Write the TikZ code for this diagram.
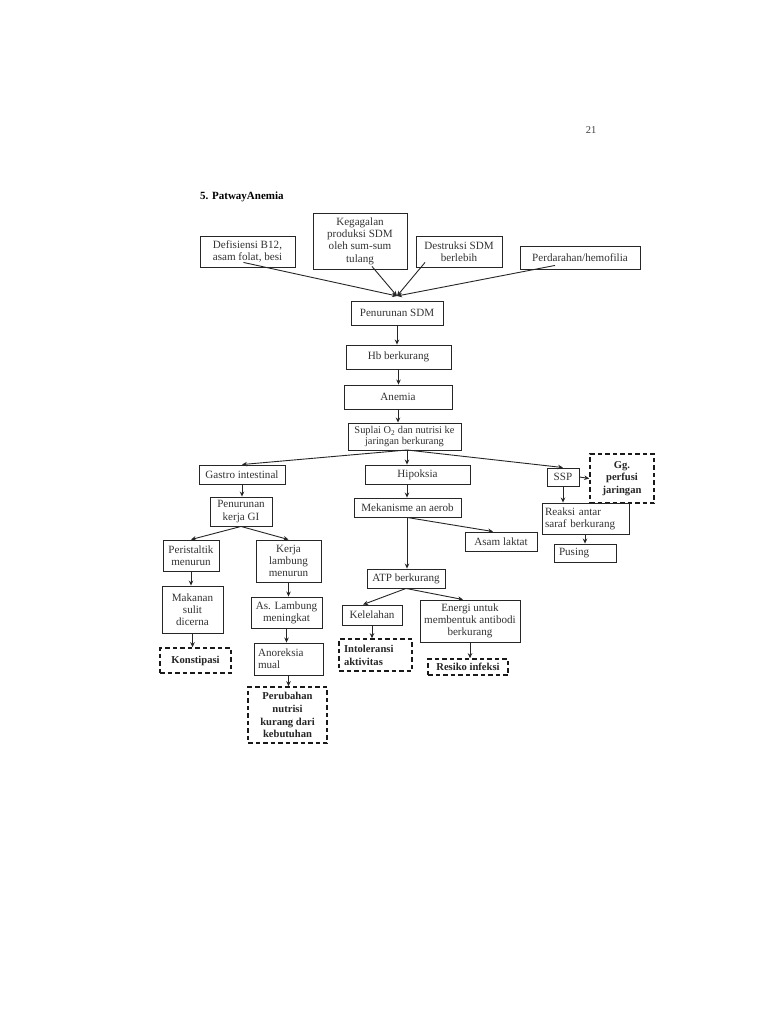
\documentclass[tikz,border=0pt]{standalone}
\usepackage{fontspec}
\setmainfont{Liberation Serif}
\usetikzlibrary{arrows.meta}
\begin{document}
\begin{tikzpicture}[x=1pt,y=-1pt,
  box/.style={draw=black!85, line width=0.9pt, inner sep=1pt, align=center,
    font=\fontsize{11.1}{12.3}\selectfont, text=black!80},
  lbox/.style={box, align=left},
  dbox/.style={draw=black!90, line width=1.6pt, dash pattern=on 4.5pt off 3pt,
    inner sep=1pt, align=center, font=\fontsize{10.6}{12.8}\selectfont\bfseries, text=black!85},
  arr/.style={draw=black!85, line width=0.9pt, -{Stealth[length=5pt,width=4.5pt]}},
  ln/.style={draw=black!85, line width=0.9pt}]
\useasboundingbox (0,0) rectangle (768,1024);
\fill[white] (0,0) rectangle (768,1024);

\node[font=\fontsize{10.5}{12}\selectfont, text=black!75] (pg) at (591,130) {21};
\node[anchor=west, font=\fontsize{11}{12}\selectfont\bfseries, inner sep=0] (title) at (200,197) {5. PatwayAnemia};

% top causes
\node[box, minimum width=95, minimum height=31] (defi) at (247.5,251.5) {Defisiensi B12,\\asam folat, besi};
\node[box, minimum width=94, minimum height=56] (kega) at (360,241) {Kegagalan\\produksi SDM\\oleh sum-sum\\tulang};
\node[box, minimum width=86, minimum height=31] (dest) at (459,251.5) {Destruksi SDM\\berlebih};
\node[box, minimum width=120, minimum height=23] (perd) at (580,257.5) {Perdarahan/hemofilia};
\coordinate (conv) at (397,296);

\node[box, minimum width=92, minimum height=24] (pen) at (397,313) {Penurunan SDM};
\node[box, minimum width=105, minimum height=24] (hb) at (398.5,357) {Hb berkurang};
\node[box, minimum width=108, minimum height=24] (anem) at (398,397) {Anemia};
\node[box, minimum width=113, minimum height=27, font=\fontsize{10.4}{10.8}\selectfont] (supl) at (404.5,436.5) {Suplai O\textsubscript{2} dan nutrisi ke\\jaringan berkurang};

% level branches
\node[box, minimum width=86, minimum height=19] (gast) at (242,474.5) {Gastro intestinal};
\node[box, minimum width=105, minimum height=19] (hipo) at (417.5,474.5) {Hipoksia};
\node[box, minimum width=32, minimum height=18] (ssp) at (563,477) {SSP};
\node[dbox, minimum width=64, minimum height=49] (gg) at (622,478.5) {Gg.\\perfusi\\jaringan};

\node[box, minimum width=62, minimum height=29] (pkgi) at (241,511.5) {Penurunan\\kerja GI};
\node[box, minimum width=107, minimum height=19] (meka) at (407.5,507.5) {Mekanisme an aerob};
\node[lbox, text width=81, inner xsep=3, minimum height=31] (reak) at (585.5,518.5) {Reaksi antar\\saraf berkurang};

\node[box, minimum width=56, minimum height=31] (peri) at (191,555.5) {Peristaltik\\menurun};
\node[box, minimum width=65, minimum height=42] (kerja) at (288.5,561) {Kerja\\lambung\\menurun};
\node[box, minimum width=72, minimum height=19] (asam) at (501,541.5) {Asam laktat};
\node[lbox, text width=52, inner xsep=5, minimum height=18] (pus) at (585,553) {Pusing};
\node[box, minimum width=78, minimum height=19] (atp) at (406,578.5) {ATP berkurang};

\node[box, minimum width=61, minimum height=47] (mak) at (192.5,609.5) {Makanan\\sulit\\dicerna};
\node[box, minimum width=71, minimum height=31] (asl) at (286.5,612.5) {As. Lambung\\meningkat};
\node[box, minimum width=60, minimum height=20] (kel) at (372,615) {Kelelahan};
\node[box, minimum width=100, minimum height=42] (ener) at (470,621) {Energi untuk\\membentuk antibodi\\berkurang};

\node[dbox, minimum width=71, minimum height=25] (kons) at (195.5,660.5) {Konstipasi};
\node[lbox, text width=61, inner xsep=4, minimum height=32] (anor) at (288.5,659) {Anoreksia\\mual};
\node[dbox, align=left, text width=63, inner xsep=5, minimum height=32] (into) at (375.5,655) {Intoleransi\\aktivitas};
\node[dbox, minimum width=80, minimum height=16] (resi) at (468,667) {Resiko infeksi};
\node[dbox, minimum width=79, minimum height=56] (peru) at (287.5,715) {Perubahan\\nutrisi\\kurang dari\\kebutuhan};

% connectors
\draw[arr] ([xshift=-4pt,yshift=5pt]defi.south) -- (conv);
\draw[arr] ([xshift=12pt,yshift=3pt]kega.south) -- (conv);
\draw[arr] ([xshift=-34pt,yshift=5pt]dest.south) -- (conv);
\draw[arr] ([xshift=-25pt,yshift=4pt]perd.south) -- (conv);

\draw[arr] (pen.south) -- (hb.north -| pen.south);
\draw[arr] (hb.south) -- (anem.north -| hb.south);
\draw[arr] (anem.south) -- (anem.south |- supl.north);
\coordinate (sb) at (407,450);
\draw[arr] (sb) -- (gast.north);
\draw[arr] (sb) -- (sb |- hipo.north);
\draw[arr] (sb) -- (ssp.north);
\draw[arr] (ssp.east) -- (gg.west);
\draw[arr] (ssp.south) -- (ssp.south |- reak.north);
\draw[arr] (reak.south -| pus.north) -- (pus.north);

\draw[arr] (gast.south) -- (gast.south |- pkgi.north);
\draw[arr] (pkgi.south) -- (peri.north);
\draw[arr] (pkgi.south) -- (kerja.north);
\draw[arr] (peri.south) -- (peri.south |- mak.north);
\draw[arr] (mak.south) -- (mak.south |- kons.north);
\draw[arr] (kerja.south) -- (kerja.south |- asl.north);
\draw[arr] (asl.south) -- (asl.south |- anor.north);
\draw[arr] (anor.south) -- (anor.south |- peru.north);

\draw[arr] (hipo.south -| sb) -- (sb |- meka.north);
\draw[arr] (meka.south -| sb) -- (sb |- atp.north);
\draw[arr] (meka.south -| sb) -- ([xshift=-8pt]asam.north);
\draw[arr] (atp.south) -- ([xshift=-9pt]kel.north);
\draw[arr] (atp.south) -- ([xshift=-7pt]ener.north);
\draw[arr] (kel.south) -- (kel.south |- into.north);
\draw[arr] (ener.south) -- (ener.south |- resi.north);
\end{tikzpicture}
\end{document}
